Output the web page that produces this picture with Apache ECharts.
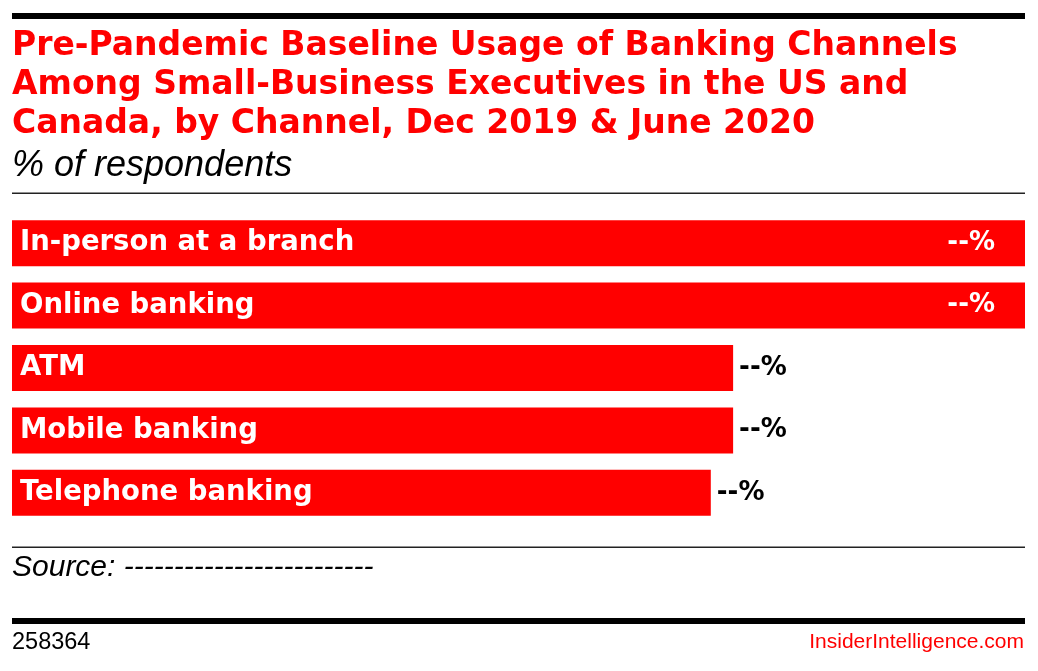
<!DOCTYPE html>
<html>
<head>
<meta charset="utf-8">
<script src="https://cdn.jsdelivr.net/npm/echarts@6/dist/echarts.min.js"></script>
<style>
html,body{margin:0;padding:0;background:#fff;}
#main{width:1038px;height:671px;}
</style>
</head>
<body>
<div id="main"></div>
<script>
// channels, top to bottom
var channels = ['In-person at a branch', 'Online banking', 'ATM', 'Mobile banking', 'Telephone banking'];
// values (labels in the chart are hidden as --%)
var usage = [59, 59, 42, 42, 40.7];
var valueText = ['--%', '--%', '--%', '--%', '--%'];

var red = '#ff0000';
var maxVal = Math.max.apply(null, usage);

var barData = usage.map(function(v, i) {
	var full = v === maxVal;
	return {
		value: v,
		label: {
			show: true,
			position: full ? 'insideRight' : 'right',
			distance: full ? 30 : 6,
			color: full ? '#fff' : '#000',
			formatter: valueText[i]
		}
	};
});

var myChart = echarts.init(document.getElementById('main'));
myChart.setOption({
	animation: false,
	backgroundColor: '#fff',
	title: [
		{
			text: 'Pre-Pandemic Baseline Usage of Banking Channels\nAmong Small-Business Executives in the US and\nCanada, by Channel, Dec 2019 & June 2020',
			left: 12,
			top: 27,
			padding: 0,
			textStyle: {
				fontFamily: 'DejaVu Sans',
				fontWeight: 'bold',
				fontSize: 33,
				lineHeight: 39,
				color: red
			}
		},
		{
			text: '% of respondents',
			left: 12,
			top: 148,
			padding: 0,
			textStyle: {
				fontFamily: 'Liberation Sans',
				fontStyle: 'italic',
				fontWeight: 'normal',
				fontSize: 36,
				color: '#000'
			}
		}
	],
	grid: {left: 12, right: 13, top: 212, height: 312},
	xAxis: {type: 'value', min: 0, max: 'dataMax', show: false},
	yAxis: {
		type: 'category',
		data: channels,
		inverse: true,
		z: 10,
		axisLine: {show: false},
		axisTick: {show: false},
		splitLine: {show: false},
		axisLabel: {
			inside: true,
			margin: 8,
			color: '#fff',
			fontFamily: 'DejaVu Sans',
			fontWeight: 'bold',
			fontSize: 27.5
		}
	},
	series: [{
		type: 'bar',
		data: barData,
		barWidth: 46,
		itemStyle: {color: red},
		label: {
			fontFamily: 'DejaVu Sans',
			fontWeight: 'bold',
			fontSize: 26
		}
	}],
	graphic: [
		{type: 'rect', shape: {x: 12, y: 13, width: 1013, height: 6}, style: {fill: '#000'}},
		{type: 'rect', shape: {x: 12, y: 192.5, width: 1013, height: 1.5}, style: {fill: '#222'}},
		{type: 'rect', shape: {x: 12, y: 546.5, width: 1013, height: 1.5}, style: {fill: '#222'}},
		{type: 'rect', shape: {x: 12, y: 618, width: 1013, height: 6}, style: {fill: '#000'}},
		{
			type: 'text', left: 12, top: 553,
			style: {
				text: 'Source: -------------------------',
				font: 'italic 30px "Liberation Sans"',
				fill: '#000'
			}
		},
		{
			type: 'text', left: 12, top: 631,
			style: {text: '258364', font: '23.5px "Liberation Sans"', fill: '#000'}
		},
		{
			type: 'text', right: 14, top: 632,
			style: {text: 'InsiderIntelligence.com', font: '21px "Liberation Sans"', fill: red}
		}
	]
});
</script>
</body>
</html>
